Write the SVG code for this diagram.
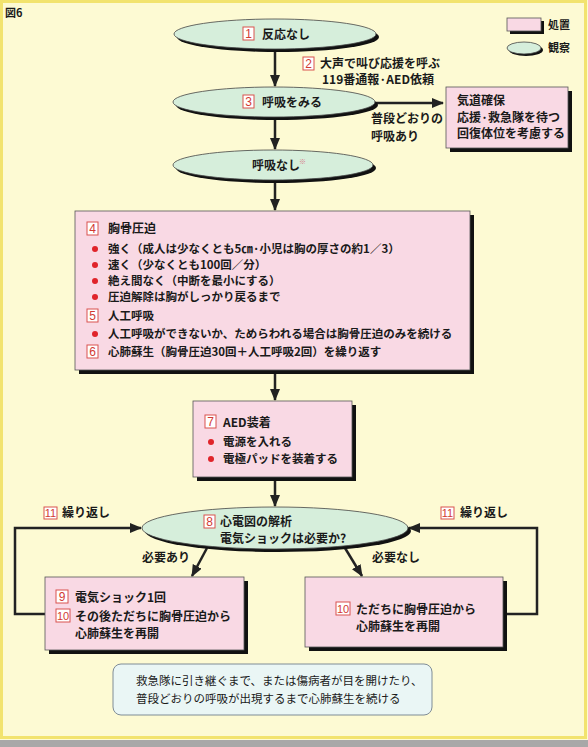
<svg xmlns="http://www.w3.org/2000/svg" width="588" height="747" viewBox="0 0 588 747">
<style>
.t{font-family:"Noto Sans CJK JP","Noto Sans",sans-serif;font-weight:bold;fill:#1a1a1a;font-size:12px}
.s{font-size:11.5px}
.r{font-family:"Noto Sans CJK JP","Noto Sans",sans-serif;font-weight:normal;fill:#1a1a1a;font-size:11.5px}
.nb{fill:#fff;stroke:#d9534f;stroke-width:1}
.nt{font-family:"Liberation Sans",Arial,sans-serif;fill:#d23a33;font-size:12px;text-anchor:middle}
.box{fill:#f9d9e4;stroke:#555;stroke-width:0.8}
.sh{fill:#111}
.el{fill:#d6eedb;stroke:#444;stroke-width:0.8}
.bul{fill:#e0242a}
.ln{fill:none;stroke:#222;stroke-width:2.5}
</style>
<defs>
<marker id="ah" markerUnits="userSpaceOnUse" markerWidth="12" markerHeight="10" refX="11" refY="5" orient="auto">
<path d="M0,0 L12,5 L0,10 Z" fill="#222"/>
</marker>
</defs>
<rect x="0" y="0" width="588" height="747" fill="#fdfad3"/>
<rect x="1.5" y="1.5" width="584" height="736" fill="#fdfad3" stroke="#f2e36e" stroke-width="3"/>
<rect x="0" y="740" width="588" height="7" fill="#a8a8a8"/>
<text class="t" x="5" y="17" style="font-size:11px">図6</text>

<g id="legend">
<rect class="sh" x="510" y="21" width="34" height="13"/>
<rect class="box" x="507" y="18" width="34" height="13"/>
<text class="t" x="548" y="29" style="font-size:11px">処置</text>
<ellipse class="sh" cx="526" cy="50" rx="17" ry="6"/>
<ellipse class="el" cx="524" cy="48" rx="17" ry="6"/>
<text class="t" x="548" y="52" style="font-size:11px">観察</text>
</g>

<g id="connectors">
<line class="ln" x1="275" y1="49" x2="275" y2="86" marker-end="url(#ah)"/>
<line class="ln" x1="375" y1="103" x2="443" y2="103" marker-end="url(#ah)"/>
<line class="ln" x1="275" y1="117" x2="275" y2="149" marker-end="url(#ah)"/>
<line class="ln" x1="275" y1="181" x2="275" y2="210" marker-end="url(#ah)"/>
<line class="ln" x1="275" y1="374" x2="275" y2="400" marker-end="url(#ah)"/>
<line class="ln" x1="275" y1="481" x2="275" y2="506" marker-end="url(#ah)"/>
<line class="ln" x1="207" y1="548" x2="192" y2="576" marker-end="url(#ah)"/>
<line class="ln" x1="345" y1="548" x2="362" y2="576" marker-end="url(#ah)"/>
<polyline class="ln" points="45,614 15,614 15,528 141,528" marker-end="url(#ah)"/>
<polyline class="ln" points="503,614 537,614 537,528 409,528" marker-end="url(#ah)"/>
<rect class="nb" x="303" y="57" width="11" height="13"/>
<text class="nt" x="308.5" y="68">2</text>
<text class="t" x="320" y="68">大声で叫び応援を呼ぶ</text>
<text class="t" x="322" y="84">119番通報·AED依頼</text>
<text class="t" x="371" y="123">普段どおりの</text>
<text class="t" x="371" y="141">呼吸あり</text>
<text class="t" x="142" y="562">必要あり</text>
<text class="t" x="372" y="562">必要なし</text>
<rect class="nb" x="44" y="507" width="13" height="12"/>
<text class="nt" x="50.5" y="517" style="font-size:11px">11</text>
<text class="t" x="62" y="517">繰り返し</text>
<rect class="nb" x="441" y="507" width="13" height="12"/>
<text class="nt" x="447.5" y="517" style="font-size:11px">11</text>
<text class="t" x="460" y="517">繰り返し</text>
</g>

<g id="n1">
<ellipse class="sh" cx="278" cy="37" rx="101" ry="15"/>
<ellipse class="el" cx="275" cy="34" rx="101" ry="15"/>
<rect class="nb" x="243" y="27" width="11" height="13"/>
<text class="nt" x="248.5" y="38">1</text>
<text class="t" x="262" y="39">反応なし</text>
</g>

<g id="n3">
<ellipse class="sh" cx="277" cy="105" rx="101" ry="15"/>
<ellipse class="el" cx="274" cy="102" rx="101" ry="15"/>
<rect class="nb" x="243" y="95" width="11" height="13"/>
<text class="nt" x="248.5" y="106">3</text>
<text class="t" x="262" y="107">呼吸をみる</text>
</g>

<g id="nr">
<rect class="sh" x="450" y="91" width="122" height="61"/>
<rect class="box" x="446" y="87" width="122" height="61"/>
<text class="t" x="457" y="105">気道確保</text>
<text class="t" x="457" y="122">応援·救急隊を待つ</text>
<text class="t" x="457" y="138">回復体位を考慮する</text>
</g>

<g id="nnone">
<ellipse class="sh" cx="276" cy="168" rx="100" ry="15"/>
<ellipse class="el" cx="273" cy="165" rx="100" ry="15"/>
<text class="t" x="252" y="170">呼吸なし</text>
<text x="299" y="164" style="font-family:'Noto Sans CJK JP',sans-serif;font-size:7px;fill:#d9788a">※</text>
</g>

<g id="n4">
<rect class="sh" x="79" y="215" width="395" height="159"/>
<rect class="box" x="75" y="211" width="395" height="159"/>
<rect class="nb" x="87" y="222" width="11" height="13"/>
<text class="nt" x="92.5" y="233">4</text>
<text class="t" x="108" y="233">胸骨圧迫</text>
<circle class="bul" cx="95" cy="249" r="3"/>
<text class="t s" x="108" y="253">強く（成人は少なくとも5㎝·小児は胸の厚さの約1／3）</text>
<circle class="bul" cx="95" cy="265" r="3"/>
<text class="t s" x="108" y="269">速く（少なくとも100回／分）</text>
<circle class="bul" cx="95" cy="281" r="3"/>
<text class="t s" x="108" y="285">絶え間なく（中断を最小にする）</text>
<circle class="bul" cx="95" cy="297" r="3"/>
<text class="t s" x="108" y="301">圧迫解除は胸がしっかり戻るまで</text>
<rect class="nb" x="87" y="309" width="11" height="13"/>
<text class="nt" x="92.5" y="320">5</text>
<text class="t s" x="108" y="320">人工呼吸</text>
<circle class="bul" cx="95" cy="334" r="3"/>
<text class="t s" x="108" y="338">人工呼吸ができないか、ためらわれる場合は胸骨圧迫のみを続ける</text>
<rect class="nb" x="87" y="345" width="11" height="13"/>
<text class="nt" x="92.5" y="356">6</text>
<text class="t s" x="108" y="356">心肺蘇生（胸骨圧迫30回＋人工呼吸2回）を繰り返す</text>
</g>

<g id="n7">
<rect class="sh" x="197" y="405" width="159" height="76"/>
<rect class="box" x="193" y="401" width="159" height="76"/>
<rect class="nb" x="205" y="415" width="11" height="13"/>
<text class="nt" x="210.5" y="426">7</text>
<text class="t" x="223" y="427">AED装着</text>
<circle class="bul" cx="211" cy="442" r="3"/>
<text class="t s" x="223" y="446">電源を入れる</text>
<circle class="bul" cx="211" cy="459" r="3"/>
<text class="t s" x="223" y="463">電極パッドを装着する</text>
</g>

<g id="n8">
<ellipse class="sh" cx="278" cy="531" rx="133" ry="21"/>
<ellipse class="el" cx="275" cy="528" rx="133" ry="21"/>
<rect class="nb" x="204" y="515" width="11" height="13"/>
<text class="nt" x="209.5" y="526">8</text>
<text class="t" x="220" y="526">心電図の解析</text>
<text class="t" x="220" y="543">電気ショックは必要か?</text>
</g>

<g id="n9">
<rect class="sh" x="49" y="581" width="199" height="73"/>
<rect class="box" x="45" y="577" width="199" height="73"/>
<rect class="nb" x="56" y="590" width="12" height="13"/>
<text class="nt" x="62" y="601">9</text>
<text class="t" x="75" y="602">電気ショック1回</text>
<rect class="nb" x="56" y="609" width="14" height="13"/>
<text class="nt" x="63" y="620" style="font-size:11px">10</text>
<text class="t" x="75" y="621">その後ただちに胸骨圧迫から</text>
<text class="t" x="75" y="638">心肺蘇生を再開</text>
</g>

<g id="n10">
<rect class="sh" x="309" y="581" width="198" height="70"/>
<rect class="box" x="305" y="577" width="198" height="70"/>
<rect class="nb" x="336" y="602" width="14" height="13"/>
<text class="nt" x="343" y="613" style="font-size:11px">10</text>
<text class="t" x="356" y="614">ただちに胸骨圧迫から</text>
<text class="t" x="356" y="631">心肺蘇生を再開</text>
</g>

<g id="nend">
<rect x="113" y="664" width="319" height="51" rx="8" fill="#eaf6f5" stroke="#7f8c96" stroke-width="1"/>
<text class="r" x="136" y="685">救急隊に引き継ぐまで、または傷病者が目を開けたり、</text>
<text class="r" x="136" y="703">普段どおりの呼吸が出現するまで心肺蘇生を続ける</text>
</g>
</svg>
